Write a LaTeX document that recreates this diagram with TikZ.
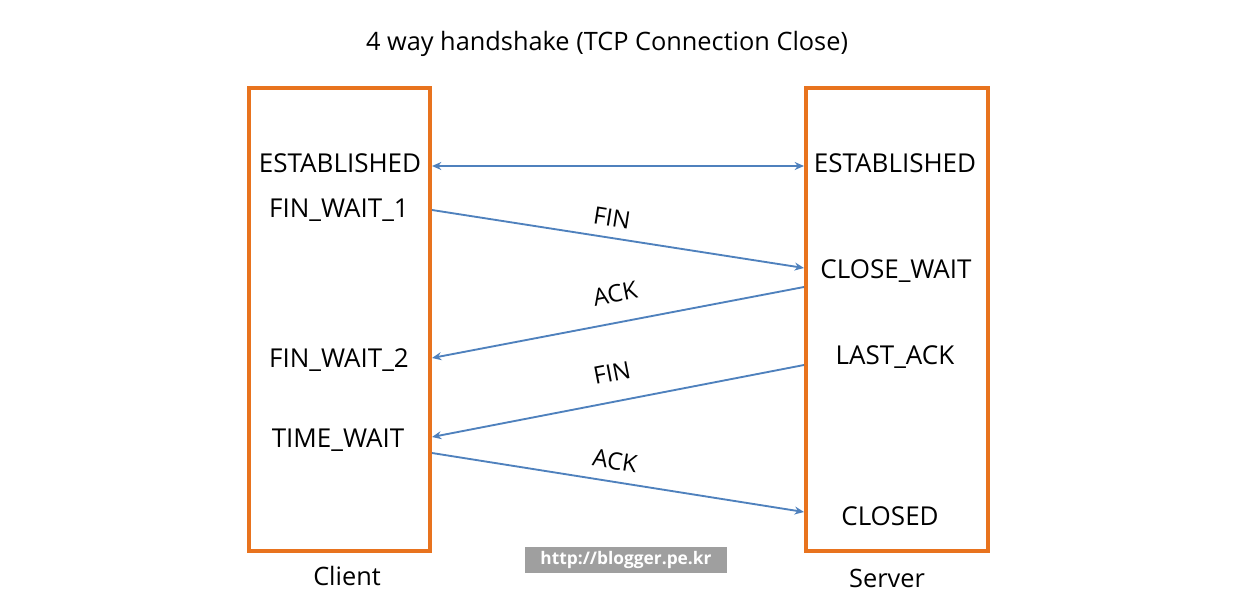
\documentclass[tikz,border=0pt]{standalone}
\usepackage{fontspec}
\setmainfont{Open Sans}
\usetikzlibrary{arrows.meta}
\definecolor{boxor}{HTML}{E8731E}
\definecolor{arrbl}{HTML}{4F81BD}
\begin{document}
\begin{tikzpicture}[x=0.75pt,y=-0.75pt,
  st/.style={font=\fontsize{19.5}{22}\selectfont,inner sep=1pt},
  lb/.style={font=\fontsize{18}{20}\selectfont,inner sep=0pt},
  box/.style={draw=boxor,line width=2.4pt},
  msg/.style={draw=arrbl,line width=1.4pt,-{Stealth[length=7pt,width=6pt]}}]
\useasboundingbox (0,0) rectangle (1245,606);
\node[font=\fontsize{19}{22}\selectfont] (title) at (607,44) {4 way handshake (TCP Connection Close)};
\draw[box] (249,88) rectangle (430,551);
\draw[box] (806,88) rectangle (988,551);
\node[st] (ce) at (340,163) {ESTABLISHED};
\node[st] (cf1) at (339,210) {FIN\_WAIT\_1};
\node[st] (cf2) at (339,360) {FIN\_WAIT\_2};
\node[st] (ct) at (338,440) {TIME\_WAIT};
\node[st] (se) at (895,163) {ESTABLISHED};
\node[st] (sc) at (896,271) {CLOSE\_WAIT};
\node[st] (sl) at (895,357) {LAST\_ACK};
\node[st] (sd) at (890,516) {CLOSED};
\node[font=\fontsize{19}{22}\selectfont] (cl) at (347,576) {Client};
\node[font=\fontsize{19}{22}\selectfont] (sv) at (887,578) {Server};
\node[fill=gray!75,text=white,font=\bfseries\fontsize{13}{15}\selectfont,minimum width=151pt,minimum height=19pt,inner sep=0pt] (wm) at (626,560) {http://blogger.pe.kr};
\coordinate (a1) at (432,166); \coordinate (a2) at (804,166);
\coordinate (b1) at (432,210); \coordinate (b2) at (804,268);
\coordinate (c1) at (804,287); \coordinate (c2) at (432,358);
\coordinate (d1) at (804,365); \coordinate (d2) at (432,437);
\coordinate (e1) at (432,453); \coordinate (e2) at (804,512);
\draw[msg,{Stealth[length=7pt,width=6pt]}-{Stealth[length=7pt,width=6pt]}] (a1) -- (a2);
\draw[msg] (b1) -- (b2);
\draw[msg] (c1) -- (c2);
\draw[msg] (d1) -- (d2);
\draw[msg] (e1) -- (e2);
\node[lb,rotate=-9] (l1) at (612,218) {FIN};
\node[lb,rotate=11] (l2) at (615,294) {ACK};
\node[lb,rotate=11] (l3) at (612,373) {FIN};
\node[lb,rotate=-9] (l4) at (615,461) {ACK};
\end{tikzpicture}
\end{document}
